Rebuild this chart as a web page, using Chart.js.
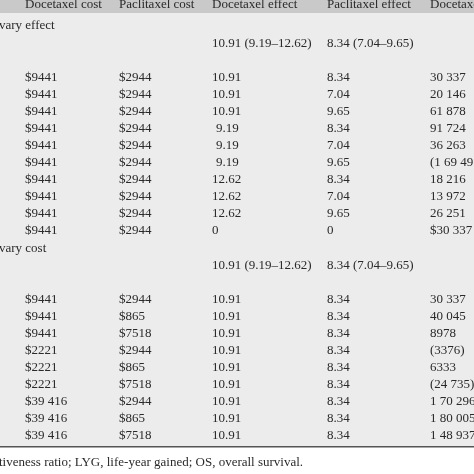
<!DOCTYPE html>
<html><head><meta charset="utf-8">
<script src="https://cdn.jsdelivr.net/npm/chart.js@4"></script>
<style>html,body{margin:0;padding:0;background:#fff}#wrap{width:474px;height:474px}</style>
</head><body><div id="wrap"><canvas id="c"></canvas></div>
<script>
// table content, column by column
const headers = ['Docetaxel cost', 'Paclitaxel cost', 'Docetaxel effect', 'Paclitaxel effect', 'Docetaxel'];
const effDocCost = ['$9441','$9441','$9441','$9441','$9441','$9441','$9441','$9441','$9441','$9441'];
const effPacCost = ['$2944','$2944','$2944','$2944','$2944','$2944','$2944','$2944','$2944','$2944'];
const effDocEff = ['10.91','10.91','10.91','9.19','9.19','9.19','12.62','12.62','12.62','0'];
const effPacEff = ['8.34','7.04','9.65','8.34','7.04','9.65','8.34','7.04','9.65','0'];
const effIcer = ['30 337','20 146','61 878','91 724','36 263','(1 69 49','18 216','13 972','26 251','$30 337'];
const costDocCost = ['$9441','$9441','$9441','$2221','$2221','$2221','$39 416','$39 416','$39 416'];
const costPacCost = ['$2944','$865','$7518','$2944','$865','$7518','$2944','$865','$7518'];
const costDocEff = ['10.91','10.91','10.91','10.91','10.91','10.91','10.91','10.91','10.91'];
const costPacEff = ['8.34','8.34','8.34','8.34','8.34','8.34','8.34','8.34','8.34'];
const costIcer = ['30 337','40 045','8978','(3376)','6333','(24 735)','1 70 296','1 80 005','1 48 937'];
const rangeDoc = '10.91 (9.19–12.62)';
const rangePac = '8.34 (7.04–9.65)';
const footnote = 'tiveness ratio; LYG, life-year gained; OS, overall survival.';

const colX = [25, 119, 212, 327, 430];
const rowH = 17;

const tablePlugin = {
  id: 'table',
  beforeDraw(chart) {
    const ctx = chart.ctx, x = chart.scales.x, y = chart.scales.y;
    const px = v => x.getPixelForValue(v), py = v => y.getPixelForValue(v);
    ctx.save();
    ctx.fillStyle = '#ececec';
    ctx.fillRect(0, 0, 474, 447);
    ctx.fillStyle = '#c9c9c9';
    ctx.fillRect(0, 0, 474, 13);
    ctx.fillStyle = '#555';
    ctx.fillRect(0, 446, 474, 1.5);
    ctx.font = '13px "Liberation Serif", serif';
    ctx.textBaseline = 'middle';
    ctx.fillStyle = '#2a2a2a';
    const put = (t, cx, cy) => ctx.fillText(t, px(cx), py(cy));
    headers.forEach((h, i) => put(h, colX[i], 5));
    put('vary effect', -1, 26);
    put(rangeDoc, colX[2], 44);
    put(rangePac, colX[3], 44);
    const cols1 = [effDocCost, effPacCost, effDocEff, effPacEff, effIcer];
    cols1.forEach((col, c) => col.forEach((t, r) => {
      let dx = (c === 2 && t.length === 4 && t !== '0') ? 4 : 0;
      put(t, colX[c] + dx, 78 + r * rowH);
    }));
    put('vary cost', -1, 249);
    put(rangeDoc, colX[2], 266);
    put(rangePac, colX[3], 266);
    const cols2 = [costDocCost, costPacCost, costDocEff, costPacEff, costIcer];
    cols2.forEach((col, c) => col.forEach((t, r) => put(t, colX[c], 300 + r * rowH)));
    put(footnote, -1, 463);
    ctx.restore();
  }
};

new Chart(document.getElementById('c'), {
  type: 'scatter',
  data: { datasets: [{ data: [], pointRadius: 0 }] },
  options: {
    responsive: true, maintainAspectRatio: false, animation: false,
    layout: { padding: 0 },
    plugins: { legend: { display: false }, tooltip: { enabled: false } },
    scales: {
      x: { display: false, min: 0, max: 474 },
      y: { display: false, min: 0, max: 474, reverse: true }
    }
  },
  plugins: [tablePlugin]
});
</script></body></html>
